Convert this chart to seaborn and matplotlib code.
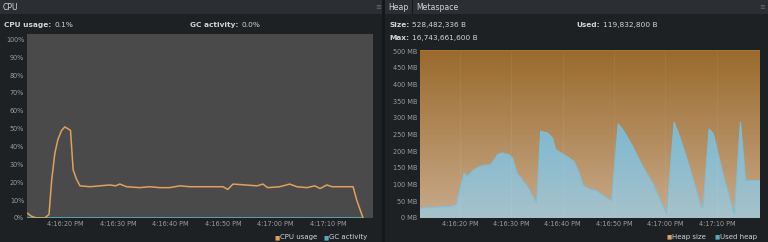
import numpy as np
import matplotlib
matplotlib.use("Agg")
import matplotlib.pyplot as plt
import seaborn as sns
from matplotlib.colors import LinearSegmentedColormap
from matplotlib.patches import Rectangle

# ---------------- data ----------------
cpu_t = [12.6, 13.45, 14.4, 16.0, 16.8, 17.3, 17.9, 18.5, 19.2, 19.8, 20.4, 20.9, 21.4, 22.0, 22.7,
         24.6, 26.5, 28.4, 29.5, 30.3, 31.6, 34.1, 36.0, 37.9, 39.8, 41.8, 43.7, 46.0, 48.0, 50.0,
         50.9, 51.9, 54.2, 56.5, 57.6, 58.5, 60.8, 62.7, 64.1, 66.0, 67.5, 68.5, 69.8, 70.8, 74.8,
         75.5, 76.7]
cpu_usage = [2.8, 1.0, 0.0, 0.0, 2.0, 21.0, 36.0, 44.0, 49.0, 51.0, 50.0, 49.0, 27.0, 22.0, 18.0,
             17.5, 18.0, 18.5, 18.0, 19.0, 17.5, 17.0, 17.5, 17.0, 17.0, 18.0, 17.5, 17.5, 17.5, 17.5,
             16.0, 19.0, 18.5, 18.0, 19.0, 17.0, 17.5, 19.0, 17.5, 17.0, 18.0, 16.5, 18.5, 17.5, 17.5,
             10.0, 0.0]
gc_t = [12.6, 76.7]
gc_activity = [0.0, 0.0]

heap_size_t = [12.2, 78.4]
heap_size_mb = [504, 504]
used_t = [12.2, 18.2, 19.2, 20.8, 21.4, 22.7, 24.3, 26.0, 27.3, 28.2, 29.5, 30.2, 31.1, 33.1, 34.9,
          35.7, 37.0, 38.0, 38.6, 40.2, 42.2, 43.2, 44.0, 45.3, 46.6, 47.9, 49.5, 50.8, 51.8, 53.7,
          55.3, 57.6, 60.2, 61.7, 62.8, 64.7, 67.0, 67.3, 68.5, 69.3, 71.2, 73.4, 74.6, 75.6, 78.4]
used_heap_mb = [30, 35, 40, 135, 125, 145, 157, 160, 190, 195, 190, 180, 135, 95, 45,
                260, 255, 240, 205, 190, 170, 135, 97, 87, 82, 67, 52, 282, 262, 212,
                162, 102, 12, 287, 242, 152, 32, 32, 267, 252, 132, 12, 287, 112, 112]

tick_seconds = [20, 30, 40, 50, 60, 70]
tick_labels = ["4:16:20 PM", "4:16:30 PM", "4:16:40 PM", "4:16:50 PM", "4:17:00 PM", "4:17:10 PM"]
cpu_yticks = list(range(0, 101, 10))
heap_yticks = list(range(0, 501, 50))

# ---------------- style ----------------
W, H = 768, 242
BG = "#1d2124"
BAR = "#2b2f33"
TXT = "#d2d4d6"
TICK = "#9a9ea2"
CPU_COL = "#dba35c"
GC_COL = "#5aa9b8"
USED_COL = "#7fbfd6"

sns.set_theme(style="dark")
plt.rcParams["font.family"] = ["DejaVu Sans"]

fig = plt.figure(figsize=(W / 100, H / 100), dpi=100, facecolor=BG)
renderer = fig.canvas.get_renderer()


def fx(px):
    return px / W


def fy(py):
    return 1 - py / H


# title bars
fig.add_artist(Rectangle((0, fy(14)), fx(382), 14 / H, transform=fig.transFigure,
                         facecolor=BAR, edgecolor="none"))
fig.add_artist(Rectangle((fx(385), fy(14)), fx(383), 14 / H, transform=fig.transFigure,
                         facecolor=BAR, edgecolor="none"))
fig.add_artist(Rectangle((fx(382), 0), fx(3), 1, transform=fig.transFigure,
                         facecolor="#15181a", edgecolor="none"))
fig.add_artist(Rectangle((fx(412), fy(14)), fx(1), 14 / H, transform=fig.transFigure,
                         facecolor="#15181a", edgecolor="none"))

fig.text(fx(3), fy(7.5), "CPU", color=TXT, fontsize=5.6, va="center", ha="left")
fig.text(fx(388), fy(7.5), "Heap", color=TXT, fontsize=5.6, va="center", ha="left")
fig.text(fx(416), fy(7.5), "Metaspace", color=TXT, fontsize=5.6, va="center", ha="left")
fig.text(fx(378), fy(7.5), "≡", color="#6a6e72", fontsize=5, va="center", ha="center")
fig.text(fx(762), fy(7.5), "≡", color="#6a6e72", fontsize=5, va="center", ha="center")


# info labels: bold label followed by the value just after the label's end
def info(x_label, y, label, value):
    t = fig.text(fx(x_label), fy(y), label, color=TXT, fontsize=5.3, fontweight="bold",
                 va="center", ha="left")
    bb = t.get_window_extent(renderer)
    fig.text(fx(bb.x1 + 3), fy(y), value, color=TXT, fontsize=5.3, va="center", ha="left")


info(4, 25, "CPU usage:", "0.1%")
info(190, 25, "GC activity:", "0.0%")
info(389, 25, "Size:", "528,482,336 B")
info(389, 38, "Max:", "16,743,661,600 B")
info(576, 25, "Used:", "119,832,800 B")

# ---------------- CPU axes ----------------
ax1 = fig.add_axes([fx(27), fy(218), fx(373 - 27), (218 - 34) / H])
ax1.set_facecolor("#4a4a4a")
sns.lineplot(x=cpu_t, y=cpu_usage, ax=ax1, color=CPU_COL, lw=1.1, zorder=3)
sns.lineplot(x=gc_t, y=gc_activity, ax=ax1, color=GC_COL, lw=1.3, zorder=2)
ax1.set_xlim(12.6, 78.6)
ax1.set_ylim(0, 103)
ax1.set_yticks(cpu_yticks)
ax1.set_yticklabels([f"{v}%" for v in cpu_yticks])
ax1.set_xticks(tick_seconds)
ax1.set_xticklabels(tick_labels)

# ---------------- Heap axes ----------------
ax2 = fig.add_axes([fx(420), fy(218), fx(760 - 420), (218 - 50) / H])
ax2.set_facecolor("#4a4a4a")


def gradient_fill(ax, x, y, c_bottom, c_top, ytop, z):
    poly = ax.fill_between(x, 0, y, color="none", lw=0)
    cmap = LinearSegmentedColormap.from_list("g", [c_bottom, c_top])
    grad = np.linspace(0, 1, 256).reshape(-1, 1)
    im = ax.imshow(grad, cmap=cmap, aspect="auto", origin="lower",
                   extent=[min(x), max(x), 0, ytop], zorder=z, interpolation="bilinear")
    im.set_clip_path(poly.get_paths()[0], transform=ax.transData)
    return im


gradient_fill(ax2, heap_size_t, heap_size_mb, "#c8aa8a", "#9a6a2c", 504, 1)
gradient_fill(ax2, used_t, used_heap_mb, "#a6c2ca", "#7ab8d2", 300, 2)
sns.lineplot(x=heap_size_t, y=heap_size_mb, ax=ax2, color="#a87530", lw=0.8, zorder=3)
sns.lineplot(x=used_t, y=used_heap_mb, ax=ax2, color=USED_COL, lw=0.8, zorder=3)
for t in tick_seconds:
    ax2.axvline(t, color="#ffffff", alpha=0.06, lw=0.6, zorder=2.5)
ax2.set_xlim(12.2, 78.4)
ax2.set_ylim(0, 504)
ax2.set_yticks(heap_yticks)
ax2.set_yticklabels([f"{v} MB" for v in heap_yticks])
ax2.set_xticks(tick_seconds)
ax2.set_xticklabels(tick_labels)

for ax in (ax1, ax2):
    ax.grid(False)
    for s in ax.spines.values():
        s.set_visible(False)
    ax.tick_params(axis="both", length=0, colors=TICK, labelsize=4.7, pad=2)
    ax.set_xlabel("")
    ax.set_ylabel("")
    ax.patch.set_zorder(0)


# ---------------- legends ----------------
def legend_item(x_sq, x_txt, y, color, label):
    fig.text(fx(x_sq), fy(y), "■", color=color, fontsize=4.0, va="center", ha="center")
    fig.text(fx(x_txt), fy(y), label, color=TXT, fontsize=5.0, va="center", ha="left")


legend_item(277, 280, 237.5, CPU_COL, "CPU usage")
legend_item(326, 329, 237.5, GC_COL, "GC activity")
legend_item(669, 672, 236.5, CPU_COL, "Heap size")
legend_item(717, 720, 236.5, GC_COL, "Used heap")

fig.savefig("out.png", dpi=100, facecolor=BG)
